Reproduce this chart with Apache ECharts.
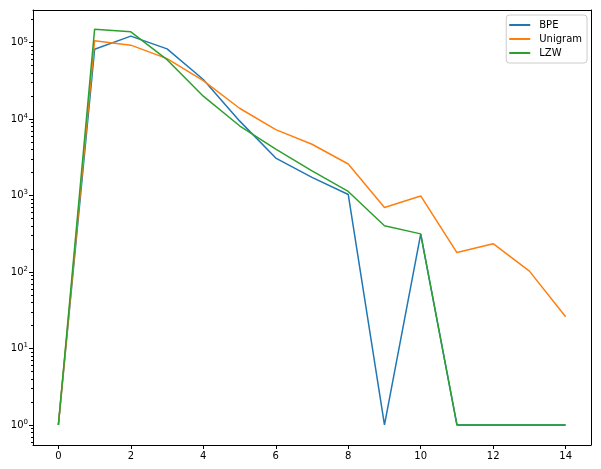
<!DOCTYPE html>
<html lang="en">
  <head>
    <meta charset="utf-8">
    <title>token frequency</title>
    <script src="https://cdn.jsdelivr.net/npm/echarts@6/dist/echarts.min.js"></script>
    <style>
      html, body { margin: 0; padding: 0; background: #fff; }
      #chart { width: 601px; height: 469px; }
    </style>
  </head>
  <body>
    <div id="chart"></div>

    <script>
      // x positions 0..14
      var xs = [0, 1, 2, 3, 4, 5, 6, 7, 8, 9, 10, 11, 12, 13, 14];

      var bpe     = [1, 82000, 122000, 83000, 33000, 9500, 3100, 1730, 1035, 1, 313, 1, 1, 1, 1];
      var unigram = [1, 106000, 93000, 62000, 32000, 13900, 7300, 4700, 2590, 700, 990, 180, 235, 103, 26];
      var lzw     = [1, 150000, 139000, 60000, 20000, 8200, 4060, 2110, 1135, 404, 316, 1, 1, 1, 1];

      var xTicks = [0, 2, 4, 6, 8, 10, 12, 14];
      var yTicks = [1, 10, 100, 1000, 10000, 100000];
      var yMinorTicks = [];
      for (var d = 0.1; d <= 100000; d *= 10) {
        for (var m = 2; m <= 9; m++) {
          var v = Math.round(m * d * 100) / 100;
          if (v > 0.55 && v < 268000) yMinorTicks.push(v);
        }
      }

      var yMin = 0.547, yMax = 268000;

      function pairs(ys){
        var out = [];
        for (var i = 0; i < xs.length; i++) out.push([xs[i], ys[i]]);
        return out;
      }

      function sup(v){
        var e = Math.round(Math.log(v) / Math.LN10);
        return '{b|10}{s|' + e + '}';
      }

      var font = 'DejaVu Sans';
      var chart = echarts.init(document.getElementById('chart'));

      chart.setOption({
        animation: false,
        textStyle: { fontFamily: font },
        grid: { left: 33, right: 10, top: 10, bottom: 24, containLabel: false },
        legend: {
          orient: 'vertical',
          right: 14,
          top: 15,
          padding: [5, 5, 5, 3],
          itemGap: 4,
          itemWidth: 21,
          itemHeight: 2,
          icon: 'rect',
          borderColor: '#cccccc',
          borderWidth: 1,
          borderRadius: 3,
          backgroundColor: '#ffffff',
          textStyle: { fontFamily: font, fontSize: 10, color: '#000', padding: [0, 0, 0, 4] },
          data: ['BPE', 'Unigram', 'LZW']
        },
        xAxis: [{
          type: 'value', min: -0.7, max: 14.7,
          axisLine: { onZero: false, lineStyle: { color: '#000', width: 1 } },
          axisTick: { customValues: xTicks, length: 4, lineStyle: { color: '#000' } },
          axisLabel: { customValues: xTicks, color: '#000', fontSize: 10, margin: 6 },
          splitLine: { show: false }
        }, {
          // top frame
          type: 'value', min: -0.7, max: 14.7, position: 'top',
          axisLine: { onZero: false, lineStyle: { color: '#000', width: 1 } },
          axisTick: { show: false }, axisLabel: { show: false }, splitLine: { show: false }
        }],
        yAxis: [{
          type: 'log',
          logBase: 10,
          min: yMin,
          max: yMax,
          position: 'left',
          axisLine: { show: true, onZero: false, lineStyle: { color: '#000', width: 1 } },
          axisTick: { show: true, customValues: yTicks, length: 4, lineStyle: { color: '#000' } },
          axisLabel: {
            customValues: yTicks,
            formatter: sup,
            margin: 5,
            rich: {
              b: { fontSize: 10, color: '#000', fontFamily: font },
              s: { fontSize: 7, color: '#000', fontFamily: font, verticalAlign: 'top', padding: [0, 0, 6, 0] }
            }
          },
          splitLine: { show: false }
        }, {
          // minor ticks only
          type: 'log',
          logBase: 10,
          min: yMin,
          max: yMax,
          position: 'left',
          axisLine: { show: false, onZero: false },
          axisTick: { show: true, customValues: yMinorTicks, length: 2, lineStyle: { color: '#000' } },
          axisLabel: { show: false },
          splitLine: { show: false }
        }, {
          // right frame
          type: 'log',
          min: yMin,
          max: yMax,
          position: 'right',
          axisLine: { show: true, onZero: false, lineStyle: { color: '#000', width: 1 } },
          axisTick: { show: false },
          axisLabel: { show: false },
          splitLine: { show: false }
        }],
        series: [
          { name: 'BPE', type: 'line', data: pairs(bpe), symbol: 'none',
            lineStyle: { color: '#1f77b4', width: 1.5 }, itemStyle: { color: '#1f77b4' } },
          { name: 'Unigram', type: 'line', data: pairs(unigram), symbol: 'none',
            lineStyle: { color: '#ff7f0e', width: 1.5 }, itemStyle: { color: '#ff7f0e' } },
          { name: 'LZW', type: 'line', data: pairs(lzw), symbol: 'none',
            lineStyle: { color: '#2ca02c', width: 1.5 }, itemStyle: { color: '#2ca02c' } }
        ]
      });
    </script>
  </body>
</html>
